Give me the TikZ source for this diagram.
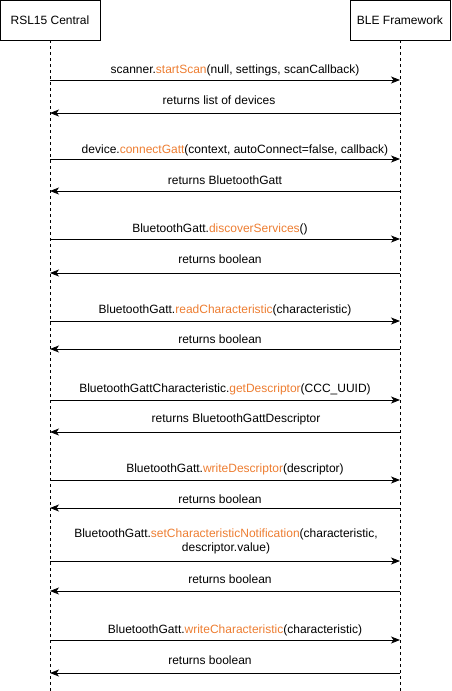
\documentclass[tikz,border=0pt]{standalone}
\usepackage{fontspec}
\setmainfont{Liberation Sans}
\usetikzlibrary{arrows.meta}
\definecolor{fnorange}{RGB}{237,125,49}
\tikzset{
  actor/.style={draw=black, line width=0.8pt, fill=white, minimum width=100pt, minimum height=40pt, inner sep=0pt, font=\fontsize{12}{14}\selectfont},
  lifeline/.style={draw=black, line width=0.8pt, dash pattern=on 3pt off 3pt},
  msg/.style={draw=black, line width=0.8pt, -{Stealth[length=9pt,width=7pt,inset=2.5pt]}},
  lbl/.style={inner sep=0pt, font=\fontsize{12}{14}\selectfont, text=black},
}
\newcommand{\fn}[1]{\textcolor{fnorange}{#1}}
\begin{document}
\begin{tikzpicture}[x=1pt,y=-1pt]
\useasboundingbox (0,0) rectangle (451,691);
\node[actor] (rsl) at (50,20) {RSL15 Central};
\node[actor] (ble) at (400,20) {BLE Framework};
\coordinate (rslend) at (50,691);
\coordinate (bleend) at (400,691);
\draw[lifeline] (rsl.south) -- (rslend);
\draw[lifeline] (ble.south) -- (bleend);
% message coordinates
\foreach \i/\y in {1/80,2/113,3/159,4/191,5/239,6/273,7/321,8/349,9/400,10/432,11/480,12/508,13/561,14/591,15/640,16/673}{
  \coordinate (l\i) at (50,\y);
  \coordinate (r\i) at (400,\y);
}
\draw[msg] (l1) -- (r1);
\draw[msg] (r2) -- (l2);
\draw[msg] (l3) -- (r3);
\draw[msg] (r4) -- (l4);
\draw[msg] (l5) -- (r5);
\draw[msg] (r6) -- (l6);
\draw[msg] (l7) -- (r7);
\draw[msg] (r8) -- (l8);
\draw[msg] (l9) -- (r9);
\draw[msg] (r10) -- (l10);
\draw[msg] (l11) -- (r11);
\draw[msg] (r12) -- (l12);
\draw[msg] (l13) -- (r13);
\draw[msg] (r14) -- (l14);
\draw[msg] (l15) -- (r15);
\draw[msg] (r16) -- (l16);
% labels
\node[lbl] (t1) at (235,70) {scanner.\fn{startScan}(null, settings, scanCallback)};
\node[lbl] (t2) at (219,100) {returns list of devices};
\node[lbl] (t3) at (235,150) {device.\fn{connectGatt}(context, autoConnect=false, callback)};
\node[lbl] (t4) at (225,180) {returns BluetoothGatt};
\node[lbl] (t5) at (220,229) {BluetoothGatt.\fn{discoverServices}()};
\node[lbl] (t6) at (220,259) {returns boolean};
\node[lbl] (t7) at (225,310) {BluetoothGatt.\fn{readCharacteristic}(characteristic)};
\node[lbl] (t8) at (220,339) {returns boolean};
\node[lbl] (t9) at (225,389) {BluetoothGattCharacteristic.\fn{getDescriptor}(CCC\_UUID)};
\node[lbl] (t10) at (236,419) {returns BluetoothGattDescriptor};
\node[lbl] (t11) at (235,469) {BluetoothGatt.\fn{writeDescriptor}(descriptor)};
\node[lbl] (t12) at (220,499) {returns boolean};
\node[lbl, align=center] (t13) at (226,541) {BluetoothGatt.\fn{setCharacteristicNotification}(characteristic,\\[0pt]descriptor.value)};
\node[lbl] (t14) at (230,579) {returns boolean};
\node[lbl] (t15) at (235,630) {BluetoothGatt.\fn{writeCharacteristic}(characteristic)};
\node[lbl] (t16) at (210,660) {returns boolean};
\end{tikzpicture}
\end{document}
